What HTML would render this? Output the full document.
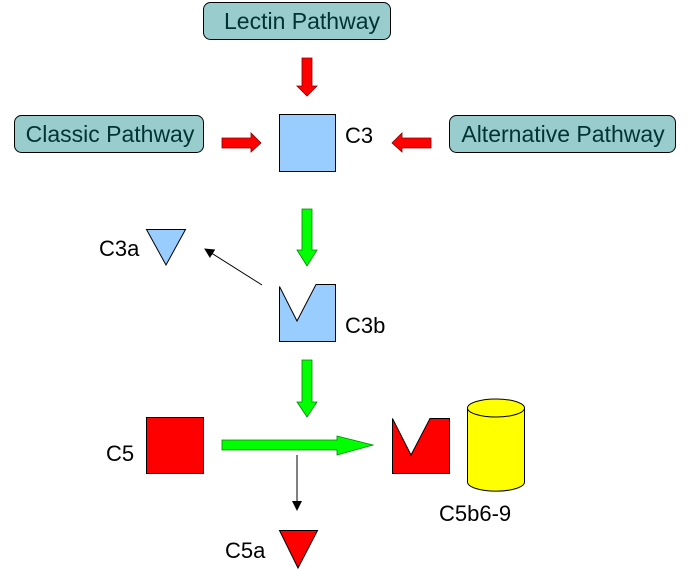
<!DOCTYPE html>
<html><head><meta charset="utf-8"><style>html,body{margin:0;padding:0;background:#fff;}svg{display:block}</style></head>
<body>
<svg width="691" height="569" xmlns="http://www.w3.org/2000/svg" font-family="Liberation Sans, Arial, sans-serif" font-size="22">
<defs><marker id="ah" markerWidth="10" markerHeight="10" refX="9" refY="5" orient="auto" markerUnits="userSpaceOnUse"><path d="M0,0 L10,5 L0,10 z" fill="#000"/></marker></defs>
<g font-size="23" fill="#003333" text-anchor="middle">
<rect x="203.5" y="2.5" width="187" height="37" rx="7" fill="#99cccc" stroke="#000"/>
<text x="302" y="29">Lectin Pathway</text>
<rect x="14.5" y="115.5" width="189" height="37" rx="7" fill="#99cccc" stroke="#000"/>
<text x="110" y="142">Classic Pathway</text>
<rect x="449.5" y="115.5" width="226" height="37" rx="7" fill="#99cccc" stroke="#000"/>
<text x="563" y="142">Alternative Pathway</text>
</g>
<path d="M302,58 H312 V86 H317 L307,96 L297,86 H302 Z" fill="#ff0000" stroke="#800" stroke-width="0.8"/>
<path d="M222,138 H251 V133 L261,143 L251,152 V148 H222 Z" fill="#ff0000" stroke="#800" stroke-width="0.8"/>
<path d="M431,138 H402 V133 L392,143 L402,152 V148 H431 Z" fill="#ff0000" stroke="#800" stroke-width="0.8"/>
<rect x="279.5" y="114.5" width="56" height="57" fill="#99ccff" stroke="#000"/>
<text x="345" y="143">C3</text>
<path d="M302,209 H312 V250 H317 L307,266 L297,250 H302 Z" fill="#00ff00" stroke="#080" stroke-width="0.8"/>
<path d="M146.5,229.5 H185.5 L166,265 Z" fill="#99ccff" stroke="#000"/>
<text x="99" y="256">C3a</text>
<line x1="262" y1="285" x2="205" y2="249" stroke="#000" stroke-width="1" marker-end="url(#ah)"/>
<path d="M279.5,286.5 L297,321 L316,284.5 H335.5 V341.5 H279.5 Z" fill="#99ccff" stroke="#000"/>
<text x="345" y="333">C3b</text>
<path d="M302,360 H312 V402 H317 L307,417 L297,402 H302 Z" fill="#00ff00" stroke="#080" stroke-width="0.8"/>
<rect x="146.5" y="417.5" width="57" height="56" fill="#ff0000" stroke="#000"/>
<text x="106" y="461">C5</text>
<path d="M222,440 H337 V436 L373,445 L337,455 V450 H222 Z" fill="#00ff00" stroke="#080" stroke-width="0.8"/>
<line x1="297" y1="455" x2="297" y2="510" stroke="#000" stroke-width="1" marker-end="url(#ah)"/>
<path d="M279.5,530.5 H317.5 L298,568 Z" fill="#ff0000" stroke="#000"/>
<text x="225" y="558">C5a</text>
<path d="M392.5,418.5 L411,455 L430,418.5 H449.5 V473.5 H392.5 Z" fill="#ff0000" stroke="#000"/>
<path d="M467.5,408 V482 A28,9 0 0 0 524.5,482 V408" fill="#ffff00" stroke="#000"/>
<ellipse cx="496" cy="408" rx="28.5" ry="9" fill="#ffff00" stroke="#000"/>
<text x="439" y="521">C5b6-9</text>
</svg>
</body></html>
